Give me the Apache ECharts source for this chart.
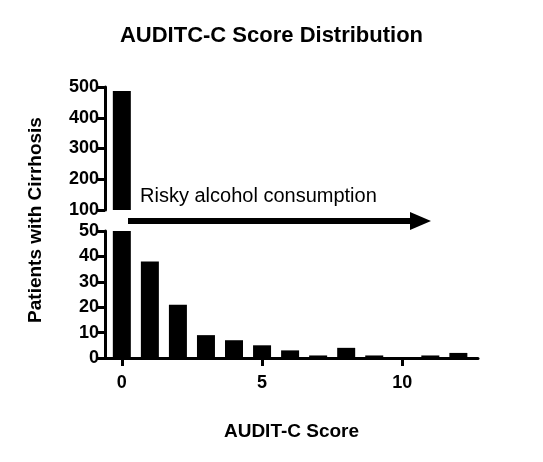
<!DOCTYPE html>
<html>
<head>
<meta charset="utf-8">
<script src="https://cdn.jsdelivr.net/npm/echarts@6/dist/echarts.min.js"></script>
<style>html,body{margin:0;background:#fff}#main{width:543px;height:462px}</style>
</head>
<body>
<div id="main"></div>
<script>
var scores = [0, 1, 2, 3, 4, 5, 6, 7, 8, 9, 10, 11, 12];
var patients = [487, 38, 21, 9, 7, 5, 3, 1, 4, 1, 0, 1, 2];
var xTicks = [0, 5, 10];

var pairs = scores.map(function (s, i) { return [s, patients[i]]; });
var font = '"Liberation Sans", Arial, sans-serif';
var axisLine = {show: true, onZero: false, lineStyle: {color: '#000', width: 3}};
var tick = {show: true, length: 8, lineStyle: {color: '#000', width: 3}};
var lbl = {color: '#000', fontWeight: 'bold', fontSize: 18, fontFamily: font, margin: 6};

var myChart = echarts.init(document.getElementById('main'));
var option = {
    animation: false,
    title: {
        text: 'AUDITC-C Score Distribution', left: 'center', top: 20,
        textStyle: {fontSize: 22, fontWeight: 'bold', color: '#000', fontFamily: font}
    },
    grid: [
        {left: 105, top: 87, width: 373, height: 123},
        {left: 105, top: 231, width: 373, height: 127}
    ],
    xAxis: [
        {gridIndex: 0, type: 'value', min: -0.6, max: 12.7, show: false},
        {
            gridIndex: 1, type: 'value', min: -0.6, max: 12.7,
            axisLine: axisLine, splitLine: {show: false},
            axisTick: {show: true, length: 8, lineStyle: {color: '#000', width: 3}, customValues: xTicks},
            axisLabel: Object.assign({}, lbl, {margin: 16, customValues: xTicks}),
            name: 'AUDIT-C Score', nameLocation: 'middle', nameGap: 64,
            nameTextStyle: {fontSize: 19, fontWeight: 'bold', color: '#000', fontFamily: font}
        }
    ],
    yAxis: [
        {gridIndex: 0, type: 'value', min: 100, max: 500, interval: 100,
         axisLine: axisLine, axisTick: tick, splitLine: {show: false}, axisLabel: lbl},
        {gridIndex: 1, type: 'value', min: 0, max: 50, interval: 10,
         axisLine: axisLine, axisTick: tick, splitLine: {show: false}, axisLabel: lbl}
    ],
    graphic: [
        {type: 'text', x: 36, y: 220, rotation: Math.PI / 2,
         style: {text: 'Patients with Cirrhosis', fill: '#000', font: 'bold 19px ' + font,
                 textAlign: 'center', textVerticalAlign: 'middle'}},
        {type: 'text', x: 140, y: 186,
         style: {text: 'Risky alcohol consumption', fill: '#000', font: '20px ' + font}},
        {type: 'rect', shape: {x: 128, y: 218, width: 285, height: 6}, style: {fill: '#000'}},
        {type: 'polygon', shape: {points: [[410, 212], [431, 221], [410, 230]]}, style: {fill: '#000'}}
    ],
    series: [
        {type: 'bar', xAxisIndex: 0, yAxisIndex: 0, data: pairs, barWidth: 18,
         itemStyle: {color: '#000'}, clip: true},
        {type: 'bar', xAxisIndex: 1, yAxisIndex: 1, data: pairs, barWidth: 18,
         itemStyle: {color: '#000'}, clip: true}
    ]
};
myChart.setOption(option);
</script>
</body>
</html>
